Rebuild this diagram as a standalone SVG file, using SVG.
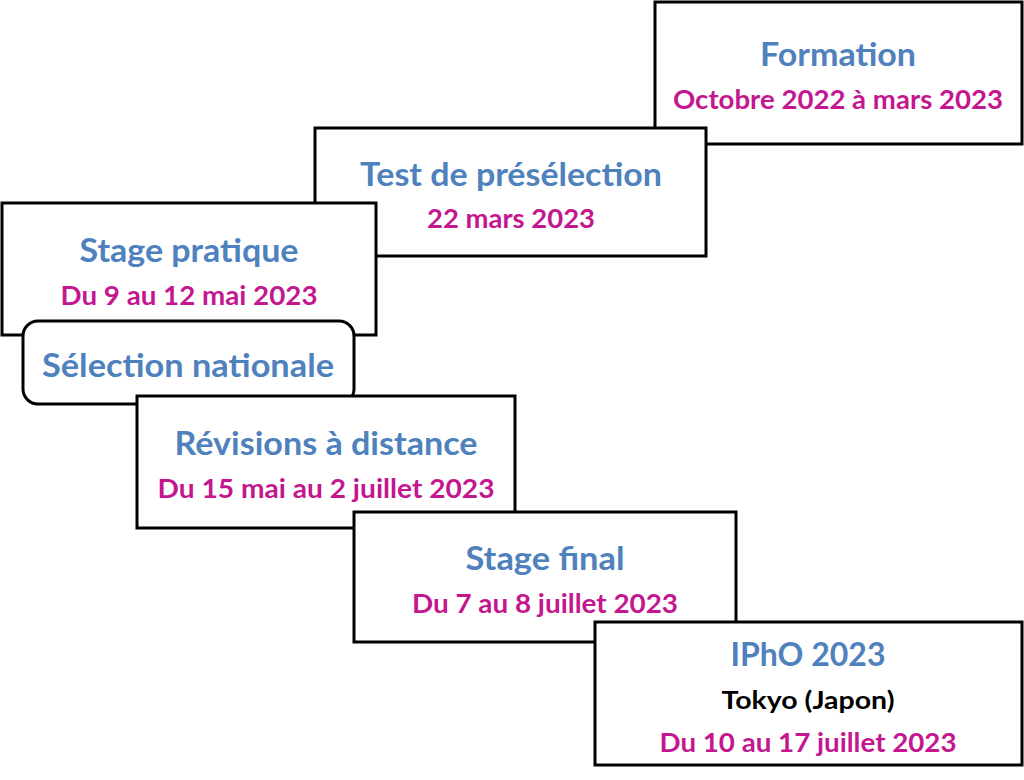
<svg xmlns="http://www.w3.org/2000/svg" width="1024" height="780" viewBox="0 0 1024 780">
<style>
.box{fill:#fff;stroke:#000;stroke-width:3}
text{font-family:Lato,"Open Sans","Liberation Sans",sans-serif;font-weight:bold;text-anchor:middle}
.t{fill:#4F81BD;font-size:33px}
.d{fill:#C4168F;font-size:26.5px}
.k{fill:#000;font-size:25px}
</style>
<rect x="0" y="0" width="1024" height="780" fill="#fff"/>
<g id="formation">
<rect class="box" x="655" y="2" width="367" height="142"/>
<text class="t" x="838" y="66" textLength="156" lengthAdjust="spacingAndGlyphs">Formation</text>
<text class="d" x="838" y="109" textLength="330" lengthAdjust="spacingAndGlyphs">Octobre 2022 à mars 2023</text>
</g>
<g id="test">
<rect class="box" x="315" y="128" width="391" height="128"/>
<text class="t" x="511" y="186" textLength="302" lengthAdjust="spacingAndGlyphs">Test de présélection</text>
<text class="d" x="511" y="228" textLength="168" lengthAdjust="spacingAndGlyphs">22 mars 2023</text>
</g>
<g id="stage-pratique">
<rect class="box" x="2" y="203" width="374" height="132"/>
<text class="t" x="189" y="262" textLength="219" lengthAdjust="spacingAndGlyphs">Stage pratique</text>
<text class="d" x="189" y="305" textLength="257" lengthAdjust="spacingAndGlyphs">Du 9 au 12 mai 2023</text>
</g>
<g id="selection">
<rect class="box" x="23" y="321" width="331" height="83" rx="15" ry="15"/>
<text class="t" x="188" y="377" textLength="292" lengthAdjust="spacingAndGlyphs">Sélection nationale</text>
</g>
<g id="revisions">
<rect class="box" x="137" y="396" width="378" height="132"/>
<text class="t" x="326" y="455" textLength="303" lengthAdjust="spacingAndGlyphs">Révisions à distance</text>
<text class="d" x="326" y="498" textLength="337" lengthAdjust="spacingAndGlyphs">Du 15 mai au 2 juillet 2023</text>
</g>
<g id="stage-final">
<rect class="box" x="354" y="512" width="382" height="130"/>
<text class="t" x="545" y="570" textLength="159" lengthAdjust="spacingAndGlyphs">Stage final</text>
<text class="d" x="545" y="613" textLength="266" lengthAdjust="spacingAndGlyphs">Du 7 au 8 juillet 2023</text>
</g>
<g id="ipho">
<rect class="box" x="595" y="622" width="427" height="143"/>
<text class="t" x="808" y="666" textLength="155" lengthAdjust="spacingAndGlyphs">IPhO 2023</text>
<text class="k" x="808" y="709" textLength="173" lengthAdjust="spacingAndGlyphs">Tokyo (Japon)</text>
<text class="d" x="808" y="752" textLength="297" lengthAdjust="spacingAndGlyphs">Du 10 au 17 juillet 2023</text>
</g>
<g id="connectors"></g>
</svg>
